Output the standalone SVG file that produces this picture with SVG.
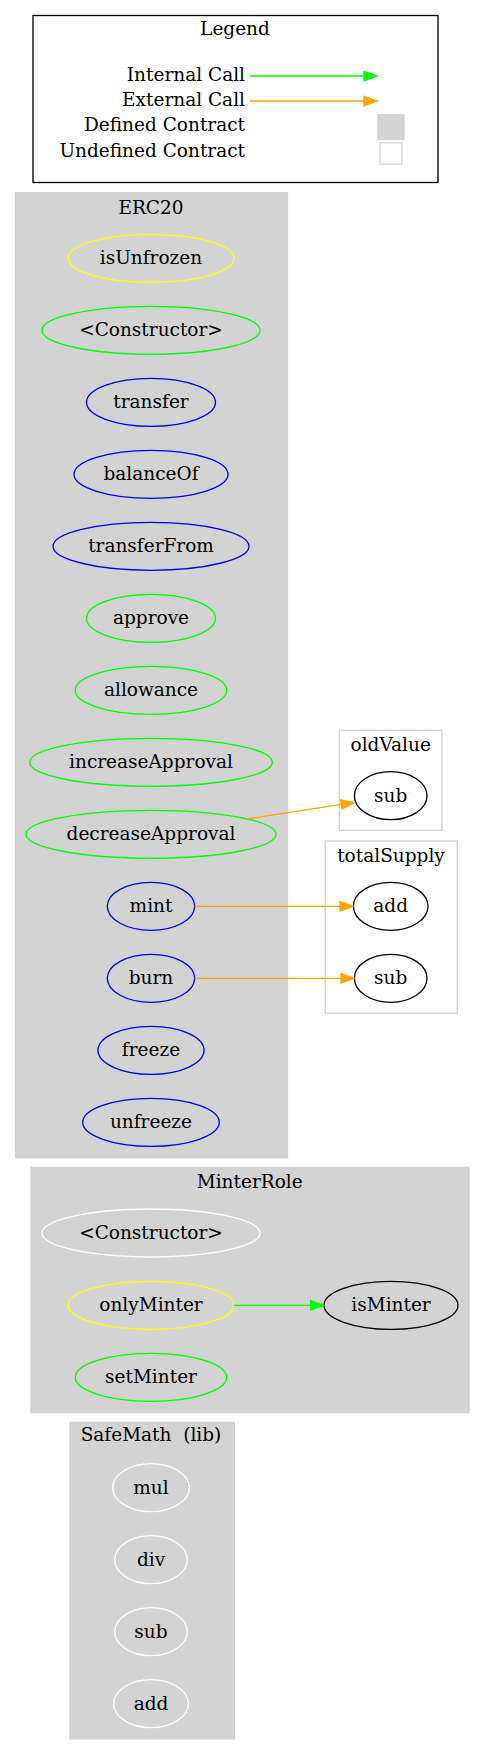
<svg xmlns="http://www.w3.org/2000/svg" width="484" height="1755" viewBox="0 0 484 1755">
<style>
text{font-family:"DejaVu Serif","Liberation Serif",serif;font-size:18.5px;fill:#000;text-anchor:middle}
.r{text-anchor:end}
.pre{white-space:pre}
ellipse{fill:none;stroke-width:1.33}
.cl{fill:#d3d3d3;stroke:#d3d3d3;stroke-width:1.33}
.cw{fill:#fff;stroke:#d3d3d3;stroke-width:1.33}
.g{stroke:#00ff00}.b{stroke:#0000ff}.y{stroke:#ffff00}.w{stroke:#fff}.k{stroke:#000}
.eo{stroke:#ffa500;stroke-width:1.33;fill:none}
.eg{stroke:#00ff00;stroke-width:1.33;fill:none}
</style>
<rect width="484" height="1755" fill="#fff"/>
<g id="legend">
<rect x="33" y="15.5" width="405" height="167" fill="#fff" stroke="#000" stroke-width="1.33"/>
<text x="235" y="35">Legend</text>
<text class="r" x="245" y="81">Internal Call</text>
<text class="r" x="245" y="106">External Call</text>
<text class="r" x="245" y="131">Defined Contract</text>
<text class="r" x="245" y="157">Undefined Contract</text>
<line class="eg" x1="250" y1="76" x2="364" y2="76"/>
<polygon points="364,71.3 377,76 364,80.7" fill="#00ff00" stroke="#00ff00" stroke-width="1.33"/>
<line class="eo" x1="250" y1="101" x2="364" y2="101"/>
<polygon points="364,96.3 377,101 364,105.7" fill="#ffa500" stroke="#ffa500" stroke-width="1.33"/>
<rect x="378" y="114.7" width="26" height="25" class="cl"/>
<rect x="380" y="142.7" width="22" height="21.5" class="cw"/>
</g>
<g id="cluster_ERC20">
<rect class="cl" x="15.5" y="192.7" width="272" height="965"/>
<text x="151" y="213.5">ERC20</text>
</g>
<g id="cluster_oldValue">
<rect class="cw" x="339.3" y="730.3" width="102.7" height="100"/>
<text x="390.7" y="751">oldValue</text>
</g>
<g id="cluster_totalSupply">
<rect class="cw" x="325.3" y="841" width="132" height="172.3"/>
<text x="391" y="861.7">totalSupply</text>
</g>
<g id="cluster_MinterRole">
<rect class="cl" x="31" y="1167.3" width="438" height="245.4"/>
<text x="249.7" y="1188.3">MinterRole</text>
</g>
<g id="cluster_SafeMath">
<rect class="cl" x="70" y="1422.3" width="164.3" height="316.7"/>
<text class="pre" x="151" y="1440.7" xml:space="preserve">SafeMath  (lib)</text>
</g>
<g id="ERC20_isUnfrozen"><ellipse class="y" cx="151" cy="258.3" rx="83" ry="24"/><text x="151" y="264.3">isUnfrozen</text></g>
<g id="ERC20_constructor"><ellipse class="g" cx="151" cy="330.3" rx="109" ry="24"/><text x="151" y="336.3">&lt;Constructor&gt;</text></g>
<g id="ERC20_transfer"><ellipse class="b" cx="151" cy="402.3" rx="64.5" ry="24"/><text x="151" y="408.3">transfer</text></g>
<g id="ERC20_balanceOf"><ellipse class="b" cx="151" cy="474.3" rx="77" ry="24"/><text x="151" y="480.3">balanceOf</text></g>
<g id="ERC20_transferFrom"><ellipse class="b" cx="151" cy="546.3" rx="98" ry="24"/><text x="151" y="552.3">transferFrom</text></g>
<g id="ERC20_approve"><ellipse class="g" cx="151" cy="618.3" rx="64.5" ry="24"/><text x="151" y="624.3">approve</text></g>
<g id="ERC20_allowance"><ellipse class="g" cx="151" cy="690.3" rx="75.7" ry="24"/><text x="151" y="696.3">allowance</text></g>
<g id="ERC20_increaseApproval"><ellipse class="g" cx="151" cy="762.3" rx="121.3" ry="24"/><text x="151" y="768.3">increaseApproval</text></g>
<g id="ERC20_decreaseApproval"><ellipse class="g" cx="151" cy="834.3" rx="125" ry="24"/><text x="151" y="840.3">decreaseApproval</text></g>
<g id="ERC20_mint"><ellipse class="b" cx="151" cy="906.3" rx="43.7" ry="24"/><text x="151" y="912.3">mint</text></g>
<g id="ERC20_burn"><ellipse class="b" cx="151" cy="978.3" rx="43.7" ry="24"/><text x="151" y="984.3">burn</text></g>
<g id="ERC20_freeze"><ellipse class="b" cx="151" cy="1050.3" rx="53" ry="24"/><text x="151" y="1056.3">freeze</text></g>
<g id="ERC20_unfreeze"><ellipse class="b" cx="151" cy="1122.3" rx="68.3" ry="24"/><text x="151" y="1128.3">unfreeze</text></g>
<g id="oldValue_sub"><ellipse class="k" cx="390.7" cy="795.7" rx="36.3" ry="24"/><text x="390.7" y="801.7">sub</text></g>
<g id="totalSupply_add"><ellipse class="k" cx="390.7" cy="906.3" rx="37.3" ry="24"/><text x="390.7" y="912.3">add</text></g>
<g id="totalSupply_sub"><ellipse class="k" cx="390.7" cy="978.3" rx="36.3" ry="24"/><text x="390.7" y="984.3">sub</text></g>
<g id="MinterRole_constructor"><ellipse class="w" cx="151" cy="1233" rx="109" ry="24"/><text x="151" y="1239">&lt;Constructor&gt;</text></g>
<g id="MinterRole_onlyMinter"><ellipse class="y" cx="151" cy="1305.3" rx="83" ry="24"/><text x="151" y="1311.3">onlyMinter</text></g>
<g id="MinterRole_isMinter"><ellipse class="k" cx="391" cy="1305.3" rx="67" ry="24"/><text x="391" y="1311.3">isMinter</text></g>
<g id="MinterRole_setMinter"><ellipse class="g" cx="151" cy="1377.3" rx="75.7" ry="24"/><text x="151" y="1383.3">setMinter</text></g>
<g id="SafeMath_mul"><ellipse class="w" cx="151" cy="1487.7" rx="38.3" ry="24"/><text x="151" y="1493.7">mul</text></g>
<g id="SafeMath_div"><ellipse class="w" cx="151" cy="1559.7" rx="36.2" ry="24"/><text x="151" y="1565.7">div</text></g>
<g id="SafeMath_sub"><ellipse class="w" cx="151" cy="1631.7" rx="36.2" ry="24"/><text x="151" y="1637.7">sub</text></g>
<g id="SafeMath_add"><ellipse class="w" cx="151" cy="1703.7" rx="37.3" ry="24"/><text x="151" y="1709.7">add</text></g>
<g id="connectors">
<path class="eo" d="M246.7,819 L341.4,804.4"/>
<polygon points="340.7,799.8 354.3,802.7 342.1,809.0" fill="#ffa500" stroke="#ffa500" stroke-width="1.33"/>
<path class="eo" d="M194.7,906.3 L340,906.3"/>
<polygon points="340,901.6 353.3,906.3 340,911" fill="#ffa500" stroke="#ffa500" stroke-width="1.33"/>
<path class="eo" d="M194.7,978.3 L341,978.3"/>
<polygon points="341,973.6 354.3,978.3 341,983" fill="#ffa500" stroke="#ffa500" stroke-width="1.33"/>
<path class="eg" d="M234,1305.3 L310.7,1305.3"/>
<polygon points="310.7,1300.6 324,1305.3 310.7,1310" fill="#00ff00" stroke="#00ff00" stroke-width="1.33"/>
</g>
</svg>
